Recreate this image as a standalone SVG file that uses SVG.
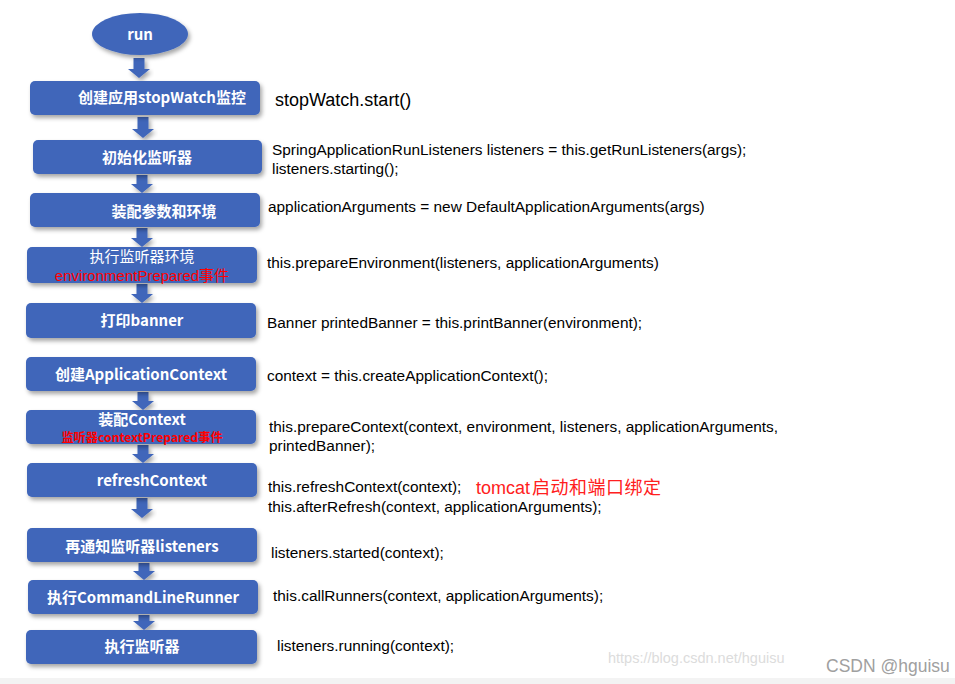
<svg xmlns="http://www.w3.org/2000/svg" width="955" height="684" viewBox="0 0 955 684">
<defs>
<filter id="sh" x="-10%" y="-20%" width="125%" height="160%">
<feDropShadow dx="2" dy="3" stdDeviation="2" flood-color="#000" flood-opacity="0.35"/>
</filter>
<style>
.box{fill:#3F66BA;filter:url(#sh);}
.arr{fill:#3F66BA;filter:url(#sh);}
.bt{font-family:"Noto Sans CJK SC","Microsoft YaHei",sans-serif;font-weight:bold;font-size:15px;fill:#fff;text-anchor:middle;}
.bn{font-family:"Noto Sans CJK SC",sans-serif;font-weight:normal;font-size:15px;fill:#fff;text-anchor:middle;}
.rn{font-family:"Liberation Sans","Noto Sans CJK SC",sans-serif;font-weight:normal;font-size:15px;fill:#ff0000;text-anchor:middle;}
.rb{font-family:"Noto Sans CJK SC",sans-serif;font-weight:bold;font-size:12.2px;fill:#ff0000;text-anchor:middle;}
.code{font-family:"Liberation Sans",Arial,"Noto Sans CJK SC",sans-serif;font-size:15.4px;fill:#000;}
</style>
</defs>
<rect width="955" height="684" fill="#fff"/>
<rect x="0" y="678" width="955" height="6" fill="#f3f3f3"/>

<g id="connectors">
<path class="arr" d="M133.5,58 h11 v11 h5.5 l-11,9 l-11,-9 h5.5 z"/>
<path class="arr" d="M137.5,117 h11 v12 h5.5 l-11,9 l-11,-9 h5.5 z"/>
<path class="arr" d="M136.5,175 h11 v9 h5.5 l-11,9 l-11,-9 h5.5 z"/>
<path class="arr" d="M136.5,228 h11 v10 h5.5 l-11,9 l-11,-9 h5.5 z"/>
<path class="arr" d="M136.5,284 h11 v10 h5.5 l-11,9 l-11,-9 h5.5 z"/>
<path class="arr" d="M137.5,392 h11 v9 h5.5 l-11,9 l-11,-9 h5.5 z"/>
<path class="arr" d="M137.5,445 h11 v9 h5.5 l-11,9 l-11,-9 h5.5 z"/>
<path class="arr" d="M136.5,498 h11 v11 h5.5 l-11,9 l-11,-9 h5.5 z"/>
<path class="arr" d="M138.5,563 h11 v8 h5.5 l-11,9 l-11,-9 h5.5 z"/>
<path class="arr" d="M138.5,615 h11 v6 h5.5 l-11,9 l-11,-9 h5.5 z"/>
</g>

<g id="run">
<ellipse class="box" cx="140" cy="34" rx="48" ry="21"/>
<text class="bt" x="140" y="40">run</text>
</g>
<g id="n1">
<rect class="box" x="30" y="81" width="230" height="34" rx="5"/>
<text class="bt" x="162" y="103">创建应用stopWatch监控</text>
</g>
<g id="n2">
<rect class="box" x="33" y="140" width="229" height="34" rx="5"/>
<text class="bt" x="147" y="163">初始化监听器</text>
</g>
<g id="n3">
<rect class="box" x="30" y="193" width="230" height="34" rx="5"/>
<text class="bt" x="164" y="217">装配参数和环境</text>
</g>
<g id="n4">
<rect class="box" x="27" y="247" width="230" height="36" rx="5"/>
<text class="bn" x="142" y="262">执行监听器环境</text>
<text class="rn" x="142" y="281">environmentPrepared事件</text>
</g>
<g id="n5">
<rect class="box" x="26" y="303" width="230" height="35" rx="5"/>
<text class="bt" x="142" y="326">打印banner</text>
</g>
<g id="n6">
<rect class="box" x="26" y="357" width="230" height="34" rx="5"/>
<text class="bt" x="141" y="380">创建ApplicationContext</text>
</g>
<g id="n7">
<rect class="box" x="26" y="410" width="230" height="34" rx="5"/>
<text class="bt" x="142" y="425">装配Context</text>
<text class="rb" x="142" y="441.5">监听器contextPrepared事件</text>
</g>
<g id="n8">
<rect class="box" x="27" y="463" width="230" height="34" rx="5"/>
<text class="bt" x="152" y="486">refreshContext</text>
</g>
<g id="n9">
<rect class="box" x="27" y="528" width="230" height="34" rx="5"/>
<text class="bt" x="142" y="552">再通知监听器listeners</text>
</g>
<g id="n10">
<rect class="box" x="28" y="580" width="230" height="34" rx="5"/>
<text class="bt" x="143" y="603">执行CommandLineRunner</text>
</g>
<g id="n11">
<rect class="box" x="26" y="630" width="231" height="34" rx="5"/>
<text class="bt" x="142" y="652">执行监听器</text>
</g>

<g id="code">
<text class="code" x="275" y="106" style="font-size:18px">stopWatch.start()</text>
<text class="code" x="272" y="155">SpringApplicationRunListeners listeners = this.getRunListeners(args);</text>
<text class="code" x="272" y="174">listeners.starting();</text>
<text class="code" x="268" y="212">applicationArguments = new DefaultApplicationArguments(args)</text>
<text class="code" x="267" y="268">this.prepareEnvironment(listeners, applicationArguments)</text>
<text class="code" x="267" y="328">Banner printedBanner = this.printBanner(environment);</text>
<text class="code" x="267" y="381">context = this.createApplicationContext();</text>
<text class="code" x="269" y="432">this.prepareContext(context, environment, listeners, applicationArguments,</text>
<text class="code" x="269" y="451">printedBanner);</text>
<text class="code" x="268" y="492">this.refreshContext(context);</text>
<text class="code" x="268" y="512">this.afterRefresh(context, applicationArguments);</text>
<text x="476" y="494" style="font-family:'Liberation Sans','Noto Sans CJK SC',sans-serif;font-size:18px;fill:#ff2020">tomcat<tspan style="letter-spacing:0.5px" dx="2">启动和端口绑定</tspan></text>
<text class="code" x="271" y="558">listeners.started(context);</text>
<text class="code" x="273" y="601">this.callRunners(context, applicationArguments);</text>
<text class="code" x="277" y="651">listeners.running(context);</text>
</g>

<g id="watermark">
<text x="608" y="663" style="font-family:'Liberation Sans',sans-serif;font-size:14.5px;fill:#dcdcdc">https://blog.csdn.net/hguisu</text>
<text x="826" y="672" style="font-family:'Liberation Sans',sans-serif;font-size:17.5px;fill:#a0a0a0">CSDN @hguisu</text>
</g>
</svg>
